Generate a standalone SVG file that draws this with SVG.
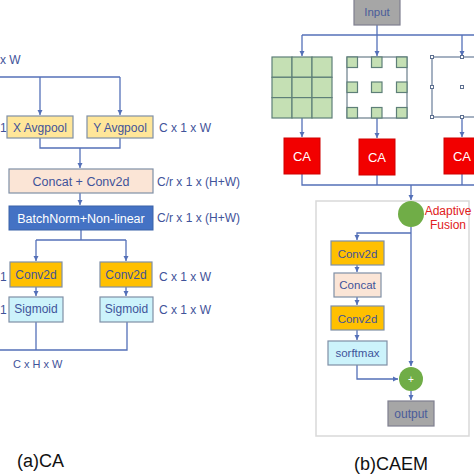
<svg xmlns="http://www.w3.org/2000/svg" width="474" height="474" viewBox="0 0 474 474">
<style>
text{font-family:"Liberation Sans",Arial,sans-serif;}
.c{fill:none;stroke:#5470B8;stroke-width:1.3}
.lbl{font-size:12px;fill:#3F539A}
.bt{font-size:12px;fill:#3F539A;text-anchor:middle}
.box{stroke:#7F8FA6;stroke-width:1.2}
.yel{fill:#FFE699}
.org{fill:#FFC000}
.pch{fill:#FBE5D6}
.cyan{fill:#CCF3FB}
.gry{fill:#A6A6A6;stroke:#7F7F8F;stroke-width:1.2}
.ca{fill:#F20000;stroke:#D00000;stroke-width:1}
.cat{font-size:13px;fill:#FFFFFF;text-anchor:middle}
.cell{fill:#C5E0B4;stroke:#5E7F78;stroke-width:1.2}
</style>
<defs>
<marker id="ah" markerWidth="6" markerHeight="6" refX="5" refY="3" orient="auto" markerUnits="userSpaceOnUse">
<path d="M0,0.5 L5,3 L0,5.5 Z" fill="#5470B8"/>
</marker>
</defs>
<rect width="474" height="474" fill="#FFFFFF"/>

<!-- Left panel texts -->
<text class="lbl" x="0" y="64">x W</text>
<text class="lbl" x="0" y="132">1</text>
<text class="lbl" x="159" y="132">C x 1 x W</text>
<text class="lbl" x="157" y="186">C/r x 1 x (H+W)</text>
<text class="lbl" x="157" y="222">C/r x 1 x (H+W)</text>
<text class="lbl" x="0" y="281">1</text>
<text class="lbl" x="159" y="281">C x 1 x W</text>
<text class="lbl" x="0" y="314">1</text>
<text class="lbl" x="159" y="314">C x 1 x W</text>
<text x="13" y="368" style="font-size:11px;fill:#3F539A">C x H x W</text>
<text x="17" y="467" style="font-size:18px;fill:#111111">(a)CA</text>

<!-- Connectors -->
<g id="connectors">
<path class="c" d="M0,77 H120"/>
<path class="c" d="M40,77 V115" marker-end="url(#ah)"/>
<path class="c" d="M120,77 V115" marker-end="url(#ah)"/>
<path class="c" d="M40,138 V148 H120 V138"/>
<path class="c" d="M80,148 V168" marker-end="url(#ah)"/>
<path class="c" d="M80,193 V205" marker-end="url(#ah)"/>
<path class="c" d="M81,230 V240"/>
<path class="c" d="M36,240 H126"/>
<path class="c" d="M36,240 V261" marker-end="url(#ah)"/>
<path class="c" d="M126,240 V261" marker-end="url(#ah)"/>
<path class="c" d="M36,287 V296" marker-end="url(#ah)"/>
<path class="c" d="M126,287 V296" marker-end="url(#ah)"/>
<path class="c" d="M36,322 V350"/>
<path class="c" d="M127,322 V350 H0"/>

<path class="c" d="M377,25 V35"/>
<path class="c" d="M302,35 H474"/>
<path class="c" d="M302,35 V56" marker-end="url(#ah)"/>
<path class="c" d="M377,35 V56" marker-end="url(#ah)"/>
<path class="c" d="M462,35 V56" marker-end="url(#ah)"/>
<path class="c" d="M302,118 V137" marker-end="url(#ah)"/>
<path class="c" d="M377,118 V138" marker-end="url(#ah)"/>
<path class="c" d="M462,117 V137" marker-end="url(#ah)"/>
<path class="c" d="M302,174 V185 H474"/>
<path class="c" d="M377,175 V185"/>
<path class="c" d="M462,174 V185"/>
<path class="c" d="M411,185 V200" marker-end="url(#ah)"/>
<path class="c" d="M411,227 V366" marker-end="url(#ah)"/>
<path class="c" d="M411,233 H357 V240" marker-end="url(#ah)"/>
<path class="c" d="M357,265 V272" marker-end="url(#ah)"/>
<path class="c" d="M357,297 V305" marker-end="url(#ah)"/>
<path class="c" d="M357,330 V340" marker-end="url(#ah)"/>
<path class="c" d="M357,365 V379 H398" marker-end="url(#ah)"/>
<path class="c" d="M411,391 V400" marker-end="url(#ah)"/>
</g>

<!-- Left panel nodes -->
<g id="xavg"><rect class="box yel" x="7" y="116" width="66" height="22"/><text class="bt" x="40" y="131.5">X Avgpool</text></g>
<g id="yavg"><rect class="box yel" x="87" y="116" width="66" height="22"/><text class="bt" x="120" y="131.5">Y Avgpool</text></g>
<g id="concatconv"><rect class="box pch" x="9" y="169" width="144" height="24"/><text class="bt" x="81" y="185.5" style="font-size:12.5px">Concat + Conv2d</text></g>
<g id="batchnorm"><rect x="9" y="206" width="144" height="24" fill="#4472C4" stroke="#3A62A8" stroke-width="1"/><text x="81" y="222.5" style="font-size:12.5px;fill:#FFFFFF;text-anchor:middle">BatchNorm+Non-linear</text></g>
<g id="conv2d_l"><rect class="box org" x="10" y="262" width="52" height="25"/><text class="bt" x="36" y="279">Conv2d</text></g>
<g id="conv2d_r"><rect class="box org" x="100" y="262" width="52" height="25"/><text class="bt" x="126" y="279">Conv2d</text></g>
<g id="sigmoid_l"><rect class="box cyan" x="9" y="297" width="54" height="25"/><text class="bt" x="36" y="313">Sigmoid</text></g>
<g id="sigmoid_r"><rect class="box cyan" x="100" y="297" width="53" height="25"/><text class="bt" x="126.5" y="313">Sigmoid</text></g>

<!-- Right panel -->
<g id="container"><rect x="316" y="201" width="153" height="235" fill="none" stroke="#D9D9D9" stroke-width="1.5"/></g>
<g id="input"><rect class="gry" x="354" y="-1" width="46" height="26"/><text x="377" y="16" style="font-size:11.5px;fill:#4A5C9A;text-anchor:middle">Input</text></g>

<g id="grid1">
<rect class="cell" x="272" y="57" width="20" height="20.3"/><rect class="cell" x="292" y="57" width="20" height="20.3"/><rect class="cell" x="312" y="57" width="20" height="20.3"/>
<rect class="cell" x="272" y="77.3" width="20" height="20.3"/><rect class="cell" x="292" y="77.3" width="20" height="20.3"/><rect class="cell" x="312" y="77.3" width="20" height="20.3"/>
<rect class="cell" x="272" y="97.6" width="20" height="20.4"/><rect class="cell" x="292" y="97.6" width="20" height="20.4"/><rect class="cell" x="312" y="97.6" width="20" height="20.4"/>
</g>
<g id="grid2">
<rect x="347" y="57" width="60" height="61" fill="#FFFFFF" stroke="#6A7E8A" stroke-width="1.2"/>
<rect class="cell" x="347" y="57" width="10.5" height="10.5"/><rect class="cell" x="371.5" y="57" width="10.5" height="10.5"/><rect class="cell" x="396.5" y="57" width="10.5" height="10.5"/>
<rect class="cell" x="347" y="82" width="10.5" height="10.5"/><rect class="cell" x="371.5" y="82" width="10.5" height="10.5"/><rect class="cell" x="396.5" y="82" width="10.5" height="10.5"/>
<rect class="cell" x="347" y="107.5" width="10.5" height="10.5"/><rect class="cell" x="371.5" y="107.5" width="10.5" height="10.5"/><rect class="cell" x="396.5" y="107.5" width="10.5" height="10.5"/>
</g>
<g id="grid3">
<rect x="432" y="57" width="60" height="60" fill="#FFFFFF" stroke="#6A7E9A" stroke-width="1.2"/>
<rect x="430.5" y="55.5" width="3" height="3" fill="#FFFFFF" stroke="#5E7090" stroke-width="1"/>
<rect x="460.5" y="55.5" width="3" height="3" fill="#FFFFFF" stroke="#5E7090" stroke-width="1"/>
<rect x="430.5" y="85.5" width="3" height="3" fill="#FFFFFF" stroke="#5E7090" stroke-width="1"/>
<rect x="460.5" y="85.5" width="3" height="3" fill="#FFFFFF" stroke="#5E7090" stroke-width="1"/>
<rect x="430.5" y="115.5" width="3" height="3" fill="#FFFFFF" stroke="#5E7090" stroke-width="1"/>
<rect x="460.5" y="115.5" width="3" height="3" fill="#FFFFFF" stroke="#5E7090" stroke-width="1"/>
</g>

<g id="ca1"><rect class="ca" x="284" y="138" width="36" height="36"/><text class="cat" x="302" y="160.5">CA</text></g>
<g id="ca2"><rect class="ca" x="359" y="139" width="36" height="36"/><text class="cat" x="377" y="161.5">CA</text></g>
<g id="ca3"><rect class="ca" x="444" y="138" width="36" height="36"/><text class="cat" x="462" y="160.5">CA</text></g>

<g id="fusion"><circle cx="411" cy="214" r="13" fill="#70AD47"/>
<text x="448" y="215" style="font-size:12px;fill:#E02020;text-anchor:middle">Adaptive</text>
<text x="448" y="229" style="font-size:12px;fill:#E02020;text-anchor:middle">Fusion</text></g>
<g id="conv2d_a"><rect class="box org" x="331" y="241" width="53" height="24"/><text x="357.5" y="257.5" style="font-size:11.5px;fill:#3F539A;text-anchor:middle">Conv2d</text></g>
<g id="concat"><rect class="box pch" x="334" y="273" width="47" height="24"/><text x="357.5" y="289" style="font-size:11.5px;fill:#3F539A;text-anchor:middle">Concat</text></g>
<g id="conv2d_b"><rect class="box org" x="331" y="306" width="53" height="24"/><text x="357.5" y="322.5" style="font-size:11.5px;fill:#3F539A;text-anchor:middle">Conv2d</text></g>
<g id="softmax"><rect class="box cyan" x="328" y="341" width="59" height="24"/><text x="357.5" y="357" style="font-size:11.5px;fill:#3F539A;text-anchor:middle">sorftmax</text></g>
<g id="plus"><circle cx="411" cy="379" r="12" fill="#70AD47"/><text x="411" y="383" style="font-size:10px;fill:#FFFFFF;text-anchor:middle">+</text></g>
<g id="output"><rect class="gry" x="388" y="401" width="46" height="25"/><text x="411" y="418" style="font-size:12px;fill:#4A5C9A;text-anchor:middle">output</text></g>
<text x="354" y="470" style="font-size:18px;fill:#111111">(b)CAEM</text>
</svg>
